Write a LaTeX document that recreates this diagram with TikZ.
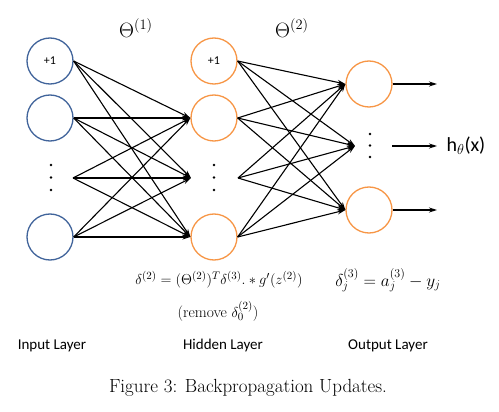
\documentclass[tikz,border=0pt]{standalone}
\usepackage{fontspec}
\newfontfamily\calib{Carlito}
\usetikzlibrary{arrows.meta}
\definecolor{inblue}{RGB}{65,100,155}
\definecolor{hidorange}{RGB}{247,150,70}
\begin{document}
\begin{tikzpicture}[x=1pt,y=-1pt,
  neuron/.style={circle,draw,line width=1.3pt,minimum size=46pt,inner sep=0pt,font=\calib\fontsize{12}{14}\selectfont},
  inneuron/.style={neuron,draw=inblue},
  hidneuron/.style={neuron,draw=hidorange},
  conn/.style={line width=1.1pt,-{Stealth[length=8pt,width=5pt]}},
  dotmark/.style={circle,fill=black,inner sep=0pt,minimum size=2.6pt},
  layerlabel/.style={font=\calib\fontsize{15}{17}\selectfont},
  theta/.style={font=\fontsize{21}{24}\selectfont,anchor=west,inner sep=0pt},
  formula/.style={font=\fontsize{15.5}{17}\selectfont}]
\useasboundingbox[fill=white] (0,0) rectangle (499,412);
% input layer
\node[inneuron] (i1) at (50,61) {+1};
\node[inneuron] (i2) at (50,118) {};
\node[inneuron] (i4) at (50,237) {};
\foreach \y [count=\k] in {165,177.5,190}{\node[dotmark] (id\k) at (51,\y) {};}
\coordinate (is) at (73,178);
% hidden layer
\node[hidneuron] (h1) at (214,61) {+1};
\node[hidneuron] (h2) at (214,118) {};
\node[hidneuron] (h4) at (214,237) {};
\foreach \y [count=\k] in {165,177.5,190}{\node[dotmark] (hd\k) at (214,\y) {};}
\coordinate (ht) at (191,178);
\coordinate (hs) at (238,178);
% output layer
\node[hidneuron] (o1) at (369,84) {};
\node[hidneuron] (o2) at (369,210) {};
\foreach \y [count=\k] in {134,145.5,157}{\node[dotmark] (od\k) at (370,\y) {};}
\coordinate (ot) at (355,146);
\coordinate (os) at (392,146);
\coordinate (e1) at (437,84);
\coordinate (e2) at (437,146);
\coordinate (e3) at (437,210);
% input -> hidden
\foreach \s in {i1.east,i2.east,is,i4.east}{
  \draw[conn] (\s) -- (h2.west);
  \draw[conn] (\s) -- (ht);
  \draw[conn] (\s) -- (h4.west);
}
% hidden -> output
\foreach \s in {h1.east,h2.east,hs,h4.east}{
  \draw[conn] (\s) -- (o1.west);
  \draw[conn] (\s) -- (ot);
  \draw[conn] (\s) -- (o2.west);
}
\draw[conn] (o1.east) -- (e1);
\draw[conn] (os) -- (e2);
\draw[conn] (o2.east) -- (e3);
\node[anchor=west,font=\calib\fontsize{20}{22}\selectfont] (hx) at (443,146) {h$_\theta$(x)};
% thetas
\node[theta] (t1) at (119,28) {$\Theta^{(1)}$};
\node[theta] (t2) at (275,28) {$\Theta^{(2)}$};
% formulas
\node[formula] (f1) at (219,280) {$\delta^{(2)}=(\Theta^{(2)})^T\delta^{(3)}.*g'(z^{(2)})$};
\node[formula] (f1b) at (218,311) {(remove $\delta_0^{(2)}$)};
\node[formula,font=\fontsize{17}{19}\selectfont] (f2) at (388,280) {$\delta_j^{(3)}=a_j^{(3)}-y_j$};
% layer labels
\node[layerlabel] (l1) at (52,346) {Input Layer};
\node[layerlabel] (l2) at (223,346) {Hidden Layer};
\node[layerlabel] (l3) at (388,346) {Output Layer};
% caption
\node[font=\fontsize{19}{21}\selectfont] (cap) at (248,388) {Figure 3: Backpropagation Updates.};
\end{tikzpicture}
\end{document}
